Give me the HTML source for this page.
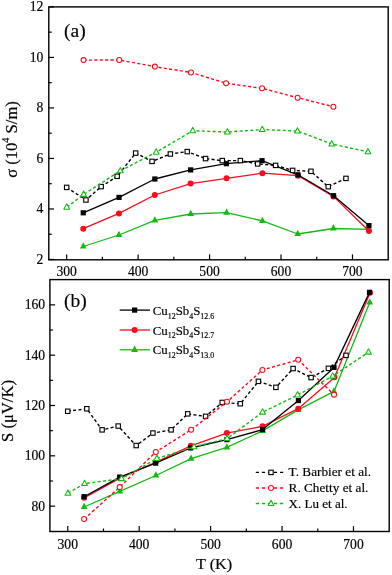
<!DOCTYPE html>
<html><head><meta charset="utf-8">
<style>
html,body{margin:0;padding:0;background:#fff;}
body{width:392px;height:575px;overflow:hidden;font-family:"Liberation Serif",serif;}
svg{display:block;}
</style></head>
<body>
<svg width="392" height="575" viewBox="0 0 392 575">
<rect width="392" height="575" fill="#fff"/>
<rect x="48.8" y="6.9" width="339.4" height="252.9" fill="none" stroke="#000" stroke-width="1.4"/>
<line x1="66.66" y1="259.8" x2="66.66" y2="254.40" stroke="#000" stroke-width="1.2"/>
<line x1="138.12" y1="259.8" x2="138.12" y2="254.40" stroke="#000" stroke-width="1.2"/>
<line x1="209.57" y1="259.8" x2="209.57" y2="254.40" stroke="#000" stroke-width="1.2"/>
<line x1="281.02" y1="259.8" x2="281.02" y2="254.40" stroke="#000" stroke-width="1.2"/>
<line x1="352.47" y1="259.8" x2="352.47" y2="254.40" stroke="#000" stroke-width="1.2"/>
<line x1="102.39" y1="259.8" x2="102.39" y2="256.80" stroke="#000" stroke-width="1.2"/>
<line x1="173.84" y1="259.8" x2="173.84" y2="256.80" stroke="#000" stroke-width="1.2"/>
<line x1="245.29" y1="259.8" x2="245.29" y2="256.80" stroke="#000" stroke-width="1.2"/>
<line x1="316.75" y1="259.8" x2="316.75" y2="256.80" stroke="#000" stroke-width="1.2"/>
<line x1="48.8" y1="259.50" x2="54.00" y2="259.50" stroke="#000" stroke-width="1.2"/>
<line x1="48.8" y1="208.98" x2="54.00" y2="208.98" stroke="#000" stroke-width="1.2"/>
<line x1="48.8" y1="158.46" x2="54.00" y2="158.46" stroke="#000" stroke-width="1.2"/>
<line x1="48.8" y1="107.94" x2="54.00" y2="107.94" stroke="#000" stroke-width="1.2"/>
<line x1="48.8" y1="57.42" x2="54.00" y2="57.42" stroke="#000" stroke-width="1.2"/>
<line x1="48.8" y1="6.90" x2="54.00" y2="6.90" stroke="#000" stroke-width="1.2"/>
<line x1="48.8" y1="234.24" x2="51.80" y2="234.24" stroke="#000" stroke-width="1.2"/>
<line x1="48.8" y1="183.72" x2="51.80" y2="183.72" stroke="#000" stroke-width="1.2"/>
<line x1="48.8" y1="133.20" x2="51.80" y2="133.20" stroke="#000" stroke-width="1.2"/>
<line x1="48.8" y1="82.68" x2="51.80" y2="82.68" stroke="#000" stroke-width="1.2"/>
<line x1="48.8" y1="32.16" x2="51.80" y2="32.16" stroke="#000" stroke-width="1.2"/>
<rect x="49.9" y="279.6" width="339.3" height="251.9" fill="none" stroke="#000" stroke-width="1.4"/>
<line x1="67.76" y1="531.5" x2="67.76" y2="526.10" stroke="#000" stroke-width="1.2"/>
<line x1="139.19" y1="531.5" x2="139.19" y2="526.10" stroke="#000" stroke-width="1.2"/>
<line x1="210.62" y1="531.5" x2="210.62" y2="526.10" stroke="#000" stroke-width="1.2"/>
<line x1="282.05" y1="531.5" x2="282.05" y2="526.10" stroke="#000" stroke-width="1.2"/>
<line x1="353.48" y1="531.5" x2="353.48" y2="526.10" stroke="#000" stroke-width="1.2"/>
<line x1="103.47" y1="531.5" x2="103.47" y2="528.50" stroke="#000" stroke-width="1.2"/>
<line x1="174.91" y1="531.5" x2="174.91" y2="528.50" stroke="#000" stroke-width="1.2"/>
<line x1="246.34" y1="531.5" x2="246.34" y2="528.50" stroke="#000" stroke-width="1.2"/>
<line x1="317.77" y1="531.5" x2="317.77" y2="528.50" stroke="#000" stroke-width="1.2"/>
<line x1="49.9" y1="506.14" x2="55.10" y2="506.14" stroke="#000" stroke-width="1.2"/>
<line x1="49.9" y1="455.82" x2="55.10" y2="455.82" stroke="#000" stroke-width="1.2"/>
<line x1="49.9" y1="405.50" x2="55.10" y2="405.50" stroke="#000" stroke-width="1.2"/>
<line x1="49.9" y1="355.18" x2="55.10" y2="355.18" stroke="#000" stroke-width="1.2"/>
<line x1="49.9" y1="304.86" x2="55.10" y2="304.86" stroke="#000" stroke-width="1.2"/>
<line x1="49.9" y1="480.98" x2="52.90" y2="480.98" stroke="#000" stroke-width="1.2"/>
<line x1="49.9" y1="430.66" x2="52.90" y2="430.66" stroke="#000" stroke-width="1.2"/>
<line x1="49.9" y1="380.34" x2="52.90" y2="380.34" stroke="#000" stroke-width="1.2"/>
<line x1="49.9" y1="330.02" x2="52.90" y2="330.02" stroke="#000" stroke-width="1.2"/>
<polyline points="83.2,246.5 119.0,235.0 154.8,220.4 190.8,214.0 226.6,212.7 262.4,220.9 297.8,234.0 333.4,228.5 368.9,229.4" fill="none" stroke="#12bb12" stroke-width="1.3" stroke-linejoin="round"/>
<polygon points="83.25,242.30 79.85,248.60 86.65,248.60" fill="#12bb12"/>
<polygon points="118.95,230.80 115.55,237.10 122.35,237.10" fill="#12bb12"/>
<polygon points="154.85,216.20 151.45,222.50 158.25,222.50" fill="#12bb12"/>
<polygon points="190.75,209.80 187.35,216.10 194.15,216.10" fill="#12bb12"/>
<polygon points="226.55,208.50 223.15,214.80 229.95,214.80" fill="#12bb12"/>
<polygon points="262.35,216.70 258.95,223.00 265.75,223.00" fill="#12bb12"/>
<polygon points="297.75,229.80 294.35,236.10 301.15,236.10" fill="#12bb12"/>
<polygon points="333.35,224.30 329.95,230.60 336.75,230.60" fill="#12bb12"/>
<polygon points="368.95,225.20 365.55,231.50 372.35,231.50" fill="#12bb12"/>
<polyline points="83.2,228.7 119.0,213.4 154.8,195.0 190.6,183.6 226.6,178.3 262.4,173.2 298.1,175.7 333.4,196.4 368.9,231.0" fill="none" stroke="#ff0a1e" stroke-width="1.3" stroke-linejoin="round"/>
<circle cx="83.25" cy="228.70" r="3.0" fill="#ff0a1e"/>
<circle cx="118.95" cy="213.40" r="3.0" fill="#ff0a1e"/>
<circle cx="154.75" cy="195.00" r="3.0" fill="#ff0a1e"/>
<circle cx="190.55" cy="183.60" r="3.0" fill="#ff0a1e"/>
<circle cx="226.55" cy="178.30" r="3.0" fill="#ff0a1e"/>
<circle cx="262.35" cy="173.20" r="3.0" fill="#ff0a1e"/>
<circle cx="298.05" cy="175.70" r="3.0" fill="#ff0a1e"/>
<circle cx="333.45" cy="196.40" r="3.0" fill="#ff0a1e"/>
<circle cx="368.95" cy="231.00" r="3.0" fill="#ff0a1e"/>
<polyline points="83.2,212.8 119.0,197.4 154.8,179.0 190.7,169.9 226.3,163.7 262.1,160.7 297.9,174.8 333.6,195.7 368.9,225.6" fill="none" stroke="#000000" stroke-width="1.3" stroke-linejoin="round"/>
<rect x="80.65" y="210.20" width="5.2" height="5.2" fill="#000000"/>
<rect x="116.45" y="194.80" width="5.2" height="5.2" fill="#000000"/>
<rect x="152.25" y="176.40" width="5.2" height="5.2" fill="#000000"/>
<rect x="188.05" y="167.30" width="5.2" height="5.2" fill="#000000"/>
<rect x="223.75" y="161.10" width="5.2" height="5.2" fill="#000000"/>
<rect x="259.45" y="158.10" width="5.2" height="5.2" fill="#000000"/>
<rect x="295.35" y="172.20" width="5.2" height="5.2" fill="#000000"/>
<rect x="330.95" y="193.10" width="5.2" height="5.2" fill="#000000"/>
<rect x="366.35" y="223.00" width="5.2" height="5.2" fill="#000000"/>
<polyline points="66.7,187.4 86.0,200.0 101.2,186.6 117.2,176.3 135.7,153.1 152.1,161.4 170.3,154.0 187.2,151.6 205.6,158.6 222.2,160.6 240.3,160.6 257.6,163.9 275.6,165.4 292.6,170.4 310.9,171.3 328.2,186.7 345.9,178.4" fill="none" stroke="#000000" stroke-width="1.4" stroke-dasharray="3.1,2.3" stroke-linejoin="round"/>
<rect x="64.45" y="185.20" width="4.4" height="4.4" fill="#fff" stroke="#000000" stroke-width="1.1"/>
<rect x="83.75" y="197.80" width="4.4" height="4.4" fill="#fff" stroke="#000000" stroke-width="1.1"/>
<rect x="98.95" y="184.40" width="4.4" height="4.4" fill="#fff" stroke="#000000" stroke-width="1.1"/>
<rect x="114.95" y="174.10" width="4.4" height="4.4" fill="#fff" stroke="#000000" stroke-width="1.1"/>
<rect x="133.45" y="150.90" width="4.4" height="4.4" fill="#fff" stroke="#000000" stroke-width="1.1"/>
<rect x="149.85" y="159.20" width="4.4" height="4.4" fill="#fff" stroke="#000000" stroke-width="1.1"/>
<rect x="168.15" y="151.80" width="4.4" height="4.4" fill="#fff" stroke="#000000" stroke-width="1.1"/>
<rect x="185.05" y="149.40" width="4.4" height="4.4" fill="#fff" stroke="#000000" stroke-width="1.1"/>
<rect x="203.35" y="156.40" width="4.4" height="4.4" fill="#fff" stroke="#000000" stroke-width="1.1"/>
<rect x="220.05" y="158.40" width="4.4" height="4.4" fill="#fff" stroke="#000000" stroke-width="1.1"/>
<rect x="238.15" y="158.40" width="4.4" height="4.4" fill="#fff" stroke="#000000" stroke-width="1.1"/>
<rect x="255.45" y="161.70" width="4.4" height="4.4" fill="#fff" stroke="#000000" stroke-width="1.1"/>
<rect x="273.35" y="163.20" width="4.4" height="4.4" fill="#fff" stroke="#000000" stroke-width="1.1"/>
<rect x="290.45" y="168.20" width="4.4" height="4.4" fill="#fff" stroke="#000000" stroke-width="1.1"/>
<rect x="308.75" y="169.10" width="4.4" height="4.4" fill="#fff" stroke="#000000" stroke-width="1.1"/>
<rect x="326.05" y="184.50" width="4.4" height="4.4" fill="#fff" stroke="#000000" stroke-width="1.1"/>
<rect x="343.75" y="176.20" width="4.4" height="4.4" fill="#fff" stroke="#000000" stroke-width="1.1"/>
<polyline points="83.5,60.1 119.2,60.0 154.8,66.6 190.9,72.5 226.1,83.3 262.1,88.3 297.6,97.7 333.4,106.7" fill="none" stroke="#ff0a1e" stroke-width="1.4" stroke-dasharray="3.1,2.3" stroke-linejoin="round"/>
<circle cx="83.55" cy="60.10" r="2.5" fill="#fff" stroke="#ff0a1e" stroke-width="1.1"/>
<circle cx="119.25" cy="60.00" r="2.5" fill="#fff" stroke="#ff0a1e" stroke-width="1.1"/>
<circle cx="154.85" cy="66.60" r="2.5" fill="#fff" stroke="#ff0a1e" stroke-width="1.1"/>
<circle cx="190.95" cy="72.50" r="2.5" fill="#fff" stroke="#ff0a1e" stroke-width="1.1"/>
<circle cx="226.05" cy="83.30" r="2.5" fill="#fff" stroke="#ff0a1e" stroke-width="1.1"/>
<circle cx="262.05" cy="88.30" r="2.5" fill="#fff" stroke="#ff0a1e" stroke-width="1.1"/>
<circle cx="297.65" cy="97.70" r="2.5" fill="#fff" stroke="#ff0a1e" stroke-width="1.1"/>
<circle cx="333.35" cy="106.70" r="2.5" fill="#fff" stroke="#ff0a1e" stroke-width="1.1"/>
<polyline points="66.8,207.2 83.7,194.4 120.3,170.8 156.2,152.2 192.8,130.7 227.3,132.0 262.2,129.6 297.4,131.0 331.8,144.0 367.9,151.8" fill="none" stroke="#12bb12" stroke-width="1.4" stroke-dasharray="3.1,2.3" stroke-linejoin="round"/>
<polygon points="66.75,203.87 63.85,209.17 69.65,209.17" fill="#fff" stroke="#12bb12" stroke-width="1.05" stroke-linejoin="round"/>
<polygon points="83.65,191.07 80.75,196.37 86.55,196.37" fill="#fff" stroke="#12bb12" stroke-width="1.05" stroke-linejoin="round"/>
<polygon points="120.35,167.47 117.45,172.77 123.25,172.77" fill="#fff" stroke="#12bb12" stroke-width="1.05" stroke-linejoin="round"/>
<polygon points="156.15,148.87 153.25,154.17 159.05,154.17" fill="#fff" stroke="#12bb12" stroke-width="1.05" stroke-linejoin="round"/>
<polygon points="192.75,127.37 189.85,132.67 195.65,132.67" fill="#fff" stroke="#12bb12" stroke-width="1.05" stroke-linejoin="round"/>
<polygon points="227.35,128.67 224.45,133.97 230.25,133.97" fill="#fff" stroke="#12bb12" stroke-width="1.05" stroke-linejoin="round"/>
<polygon points="262.25,126.27 259.35,131.57 265.15,131.57" fill="#fff" stroke="#12bb12" stroke-width="1.05" stroke-linejoin="round"/>
<polygon points="297.45,127.67 294.55,132.97 300.35,132.97" fill="#fff" stroke="#12bb12" stroke-width="1.05" stroke-linejoin="round"/>
<polygon points="331.75,140.67 328.85,145.97 334.65,145.97" fill="#fff" stroke="#12bb12" stroke-width="1.05" stroke-linejoin="round"/>
<polygon points="367.95,148.47 365.05,153.77 370.85,153.77" fill="#fff" stroke="#12bb12" stroke-width="1.05" stroke-linejoin="round"/>
<polyline points="84.1,507.0 119.8,491.4 155.9,475.5 191.1,458.7 226.8,447.4 262.5,430.9 298.2,409.9 334.0,391.4 369.7,302.4" fill="none" stroke="#12bb12" stroke-width="1.3" stroke-linejoin="round"/>
<polygon points="84.10,502.75 80.70,509.05 87.50,509.05" fill="#12bb12"/>
<polygon points="119.80,487.15 116.40,493.45 123.20,493.45" fill="#12bb12"/>
<polygon points="155.90,471.25 152.50,477.55 159.30,477.55" fill="#12bb12"/>
<polygon points="191.10,454.45 187.70,460.75 194.50,460.75" fill="#12bb12"/>
<polygon points="226.80,443.15 223.40,449.45 230.20,449.45" fill="#12bb12"/>
<polygon points="262.50,426.65 259.10,432.95 265.90,432.95" fill="#12bb12"/>
<polygon points="298.20,405.65 294.80,411.95 301.60,411.95" fill="#12bb12"/>
<polygon points="334.00,387.15 330.60,393.45 337.40,393.45" fill="#12bb12"/>
<polygon points="369.70,298.15 366.30,304.45 373.10,304.45" fill="#12bb12"/>
<polyline points="84.1,497.9 119.9,478.2 155.6,462.4 190.8,445.8 226.8,433.1 262.5,426.4 298.2,408.7 334.4,377.4 370.0,292.9" fill="none" stroke="#ff0a1e" stroke-width="1.3" stroke-linejoin="round"/>
<circle cx="84.10" cy="497.85" r="3.0" fill="#ff0a1e"/>
<circle cx="119.90" cy="478.15" r="3.0" fill="#ff0a1e"/>
<circle cx="155.60" cy="462.35" r="3.0" fill="#ff0a1e"/>
<circle cx="190.80" cy="445.75" r="3.0" fill="#ff0a1e"/>
<circle cx="226.80" cy="433.05" r="3.0" fill="#ff0a1e"/>
<circle cx="262.50" cy="426.35" r="3.0" fill="#ff0a1e"/>
<circle cx="298.20" cy="408.65" r="3.0" fill="#ff0a1e"/>
<circle cx="334.40" cy="377.35" r="3.0" fill="#ff0a1e"/>
<circle cx="370.00" cy="292.85" r="3.0" fill="#ff0a1e"/>
<polyline points="84.1,496.7 119.7,477.1 155.6,463.2 190.6,448.0 226.9,439.7 262.6,429.6 298.4,400.6 334.0,367.4 369.5,292.4" fill="none" stroke="#000000" stroke-width="1.3" stroke-linejoin="round"/>
<rect x="81.50" y="494.05" width="5.2" height="5.2" fill="#000000"/>
<rect x="117.10" y="474.45" width="5.2" height="5.2" fill="#000000"/>
<rect x="153.00" y="460.55" width="5.2" height="5.2" fill="#000000"/>
<rect x="188.00" y="445.35" width="5.2" height="5.2" fill="#000000"/>
<rect x="224.30" y="437.05" width="5.2" height="5.2" fill="#000000"/>
<rect x="260.00" y="426.95" width="5.2" height="5.2" fill="#000000"/>
<rect x="295.80" y="397.95" width="5.2" height="5.2" fill="#000000"/>
<rect x="331.40" y="364.75" width="5.2" height="5.2" fill="#000000"/>
<rect x="366.90" y="289.75" width="5.2" height="5.2" fill="#000000"/>
<polyline points="67.7,411.2 86.8,408.8 102.1,429.9 118.2,426.1 136.2,445.6 152.9,433.1 171.1,429.9 187.7,413.9 205.6,416.4 222.2,402.5 240.3,403.8 258.4,381.4 275.9,387.4 293.1,368.6 311.1,377.6 328.4,368.4 346.0,355.4" fill="none" stroke="#000000" stroke-width="1.4" stroke-dasharray="3.1,2.3" stroke-linejoin="round"/>
<rect x="65.50" y="409.05" width="4.4" height="4.4" fill="#fff" stroke="#000000" stroke-width="1.1"/>
<rect x="84.60" y="406.55" width="4.4" height="4.4" fill="#fff" stroke="#000000" stroke-width="1.1"/>
<rect x="99.90" y="427.65" width="4.4" height="4.4" fill="#fff" stroke="#000000" stroke-width="1.1"/>
<rect x="116.00" y="423.85" width="4.4" height="4.4" fill="#fff" stroke="#000000" stroke-width="1.1"/>
<rect x="134.00" y="443.35" width="4.4" height="4.4" fill="#fff" stroke="#000000" stroke-width="1.1"/>
<rect x="150.70" y="430.85" width="4.4" height="4.4" fill="#fff" stroke="#000000" stroke-width="1.1"/>
<rect x="168.90" y="427.65" width="4.4" height="4.4" fill="#fff" stroke="#000000" stroke-width="1.1"/>
<rect x="185.50" y="411.65" width="4.4" height="4.4" fill="#fff" stroke="#000000" stroke-width="1.1"/>
<rect x="203.40" y="414.15" width="4.4" height="4.4" fill="#fff" stroke="#000000" stroke-width="1.1"/>
<rect x="220.00" y="400.25" width="4.4" height="4.4" fill="#fff" stroke="#000000" stroke-width="1.1"/>
<rect x="238.10" y="401.55" width="4.4" height="4.4" fill="#fff" stroke="#000000" stroke-width="1.1"/>
<rect x="256.20" y="379.15" width="4.4" height="4.4" fill="#fff" stroke="#000000" stroke-width="1.1"/>
<rect x="273.70" y="385.15" width="4.4" height="4.4" fill="#fff" stroke="#000000" stroke-width="1.1"/>
<rect x="290.90" y="366.35" width="4.4" height="4.4" fill="#fff" stroke="#000000" stroke-width="1.1"/>
<rect x="308.90" y="375.35" width="4.4" height="4.4" fill="#fff" stroke="#000000" stroke-width="1.1"/>
<rect x="326.20" y="366.15" width="4.4" height="4.4" fill="#fff" stroke="#000000" stroke-width="1.1"/>
<rect x="343.80" y="353.15" width="4.4" height="4.4" fill="#fff" stroke="#000000" stroke-width="1.1"/>
<polyline points="84.1,519.1 119.7,487.2 155.8,452.0 191.1,429.8 227.0,401.8 262.4,370.0 298.2,359.8 334.0,394.7" fill="none" stroke="#ff0a1e" stroke-width="1.4" stroke-dasharray="3.1,2.3" stroke-linejoin="round"/>
<circle cx="84.10" cy="519.05" r="2.5" fill="#fff" stroke="#ff0a1e" stroke-width="1.1"/>
<circle cx="119.70" cy="487.15" r="2.5" fill="#fff" stroke="#ff0a1e" stroke-width="1.1"/>
<circle cx="155.80" cy="451.95" r="2.5" fill="#fff" stroke="#ff0a1e" stroke-width="1.1"/>
<circle cx="191.10" cy="429.75" r="2.5" fill="#fff" stroke="#ff0a1e" stroke-width="1.1"/>
<circle cx="227.00" cy="401.75" r="2.5" fill="#fff" stroke="#ff0a1e" stroke-width="1.1"/>
<circle cx="262.40" cy="369.95" r="2.5" fill="#fff" stroke="#ff0a1e" stroke-width="1.1"/>
<circle cx="298.20" cy="359.75" r="2.5" fill="#fff" stroke="#ff0a1e" stroke-width="1.1"/>
<circle cx="334.00" cy="394.65" r="2.5" fill="#fff" stroke="#ff0a1e" stroke-width="1.1"/>
<polyline points="67.9,493.2 84.5,483.6 121.5,478.7 156.9,458.5 194.0,446.8 227.1,438.6 262.6,412.2 297.6,395.0 332.7,376.2 368.5,352.2" fill="none" stroke="#12bb12" stroke-width="1.4" stroke-dasharray="3.1,2.3" stroke-linejoin="round"/>
<polygon points="67.90,489.92 65.00,495.22 70.80,495.22" fill="#fff" stroke="#12bb12" stroke-width="1.05" stroke-linejoin="round"/>
<polygon points="84.50,480.22 81.60,485.52 87.40,485.52" fill="#fff" stroke="#12bb12" stroke-width="1.05" stroke-linejoin="round"/>
<polygon points="121.50,475.32 118.60,480.62 124.40,480.62" fill="#fff" stroke="#12bb12" stroke-width="1.05" stroke-linejoin="round"/>
<polygon points="156.90,455.12 154.00,460.42 159.80,460.42" fill="#fff" stroke="#12bb12" stroke-width="1.05" stroke-linejoin="round"/>
<polygon points="194.00,443.42 191.10,448.72 196.90,448.72" fill="#fff" stroke="#12bb12" stroke-width="1.05" stroke-linejoin="round"/>
<polygon points="227.10,435.22 224.20,440.52 230.00,440.52" fill="#fff" stroke="#12bb12" stroke-width="1.05" stroke-linejoin="round"/>
<polygon points="262.60,408.82 259.70,414.12 265.50,414.12" fill="#fff" stroke="#12bb12" stroke-width="1.05" stroke-linejoin="round"/>
<polygon points="297.60,391.62 294.70,396.92 300.50,396.92" fill="#fff" stroke="#12bb12" stroke-width="1.05" stroke-linejoin="round"/>
<polygon points="332.70,372.82 329.80,378.12 335.60,378.12" fill="#fff" stroke="#12bb12" stroke-width="1.05" stroke-linejoin="round"/>
<polygon points="368.50,348.82 365.60,354.12 371.40,354.12" fill="#fff" stroke="#12bb12" stroke-width="1.05" stroke-linejoin="round"/>
<line x1="119.7" y1="310.1" x2="150" y2="310.1" stroke="#000000" stroke-width="1.3"/>
<rect x="132.00" y="307.50" width="5.2" height="5.2" fill="#000000"/>
<line x1="119.7" y1="330.0" x2="150" y2="330.0" stroke="#ff0a1e" stroke-width="1.3"/>
<circle cx="134.60" cy="330.00" r="3.0" fill="#ff0a1e"/>
<line x1="119.7" y1="349.8" x2="150" y2="349.8" stroke="#12bb12" stroke-width="1.3"/>
<polygon points="134.60,345.60 131.20,351.90 138.00,351.90" fill="#12bb12"/>
<line x1="255.8" y1="472.4" x2="283.2" y2="472.4" stroke="#000000" stroke-width="1.4" stroke-dasharray="3.2,2.85"/>
<rect x="268.80" y="470.20" width="4.4" height="4.4" fill="#fff" stroke="#000000" stroke-width="1.1"/>
<line x1="255.8" y1="488.0" x2="283.2" y2="488.0" stroke="#ff0a1e" stroke-width="1.4" stroke-dasharray="3.2,2.85"/>
<circle cx="271.00" cy="488.00" r="2.5" fill="#fff" stroke="#ff0a1e" stroke-width="1.1"/>
<line x1="255.8" y1="503.5" x2="283.2" y2="503.5" stroke="#12bb12" stroke-width="1.4" stroke-dasharray="3.2,2.85"/>
<polygon points="271.00,500.17 268.10,505.47 273.90,505.47" fill="#fff" stroke="#12bb12" stroke-width="1.05" stroke-linejoin="round"/>
<g style="filter:grayscale(1)" fill="#000" stroke="#000" stroke-width="0.18">
<text x="66.66" y="276.2" text-anchor="middle" font-size="13.6" style="font-family:'Liberation Serif',serif">300</text>
<text x="138.12" y="276.2" text-anchor="middle" font-size="13.6" style="font-family:'Liberation Serif',serif">400</text>
<text x="209.57" y="276.2" text-anchor="middle" font-size="13.6" style="font-family:'Liberation Serif',serif">500</text>
<text x="281.02" y="276.2" text-anchor="middle" font-size="13.6" style="font-family:'Liberation Serif',serif">600</text>
<text x="352.47" y="276.2" text-anchor="middle" font-size="13.6" style="font-family:'Liberation Serif',serif">700</text>
<text x="43.3" y="263.80" text-anchor="end" font-size="13.6" style="font-family:'Liberation Serif',serif">2</text>
<text x="43.3" y="213.28" text-anchor="end" font-size="13.6" style="font-family:'Liberation Serif',serif">4</text>
<text x="43.3" y="162.76" text-anchor="end" font-size="13.6" style="font-family:'Liberation Serif',serif">6</text>
<text x="43.3" y="112.24" text-anchor="end" font-size="13.6" style="font-family:'Liberation Serif',serif">8</text>
<text x="43.3" y="61.72" text-anchor="end" font-size="13.6" style="font-family:'Liberation Serif',serif">10</text>
<text x="43.3" y="11.20" text-anchor="end" font-size="13.6" style="font-family:'Liberation Serif',serif">12</text>
<text x="67.76" y="548.8" text-anchor="middle" font-size="13.6" style="font-family:'Liberation Serif',serif">300</text>
<text x="139.19" y="548.8" text-anchor="middle" font-size="13.6" style="font-family:'Liberation Serif',serif">400</text>
<text x="210.62" y="548.8" text-anchor="middle" font-size="13.6" style="font-family:'Liberation Serif',serif">500</text>
<text x="282.05" y="548.8" text-anchor="middle" font-size="13.6" style="font-family:'Liberation Serif',serif">600</text>
<text x="353.48" y="548.8" text-anchor="middle" font-size="13.6" style="font-family:'Liberation Serif',serif">700</text>
<text x="45.1" y="510.74" text-anchor="end" font-size="13.6" style="font-family:'Liberation Serif',serif">80</text>
<text x="45.1" y="460.42" text-anchor="end" font-size="13.6" style="font-family:'Liberation Serif',serif">100</text>
<text x="45.1" y="410.10" text-anchor="end" font-size="13.6" style="font-family:'Liberation Serif',serif">120</text>
<text x="45.1" y="359.78" text-anchor="end" font-size="13.6" style="font-family:'Liberation Serif',serif">140</text>
<text x="45.1" y="309.46" text-anchor="end" font-size="13.6" style="font-family:'Liberation Serif',serif">160</text>
<text x="64.0" y="36.6" font-size="19.5" style="font-family:'Liberation Serif',serif">(a)</text>
<text x="64.0" y="306.6" font-size="19.5" style="font-family:'Liberation Serif',serif">(b)</text>
<text transform="translate(16.8,139.5) rotate(-90)" text-anchor="middle" font-size="16" textLength="76.6" lengthAdjust="spacingAndGlyphs" style="font-family:'Liberation Serif',serif">σ (10<tspan dy="-8" font-size="10">4</tspan><tspan dy="8"> S/m)</tspan></text>
<text transform="translate(13.0,411) rotate(-90)" text-anchor="middle" font-size="16" textLength="62" lengthAdjust="spacingAndGlyphs" style="font-family:'Liberation Serif',serif">S (μV/K)</text>
<text x="214.1" y="569.2" text-anchor="middle" font-size="15" textLength="36.2" lengthAdjust="spacingAndGlyphs" style="font-family:'Liberation Serif',serif">T (K)</text>
<text x="152.8" y="314.6" font-size="13.5" textLength="61.3" lengthAdjust="spacingAndGlyphs" style="font-family:'Liberation Serif',serif">Cu<tspan dy="3.9" font-size="8.3">12</tspan><tspan dy="-3.9">Sb</tspan><tspan dy="3.9" font-size="8.3">4</tspan><tspan dy="-3.9">S</tspan><tspan dy="3.9" font-size="8.3">12.6</tspan></text>
<text x="152.8" y="334.5" font-size="13.5" textLength="61.3" lengthAdjust="spacingAndGlyphs" style="font-family:'Liberation Serif',serif">Cu<tspan dy="3.9" font-size="8.3">12</tspan><tspan dy="-3.9">Sb</tspan><tspan dy="3.9" font-size="8.3">4</tspan><tspan dy="-3.9">S</tspan><tspan dy="3.9" font-size="8.3">12.7</tspan></text>
<text x="152.8" y="354.3" font-size="13.5" textLength="61.3" lengthAdjust="spacingAndGlyphs" style="font-family:'Liberation Serif',serif">Cu<tspan dy="3.9" font-size="8.3">12</tspan><tspan dy="-3.9">Sb</tspan><tspan dy="3.9" font-size="8.3">4</tspan><tspan dy="-3.9">S</tspan><tspan dy="3.9" font-size="8.3">13.0</tspan></text>
<text x="288.6" y="475.9" font-size="13" textLength="82.4" lengthAdjust="spacingAndGlyphs" style="font-family:'Liberation Serif',serif">T. Barbier et al.</text>
<text x="288.6" y="491.9" font-size="13" textLength="79.8" lengthAdjust="spacingAndGlyphs" style="font-family:'Liberation Serif',serif">R. Chetty et al.</text>
<text x="288.6" y="507.8" font-size="13" textLength="59.0" lengthAdjust="spacingAndGlyphs" style="font-family:'Liberation Serif',serif">X. Lu et al.</text>
</g>
</svg>
</body></html>
